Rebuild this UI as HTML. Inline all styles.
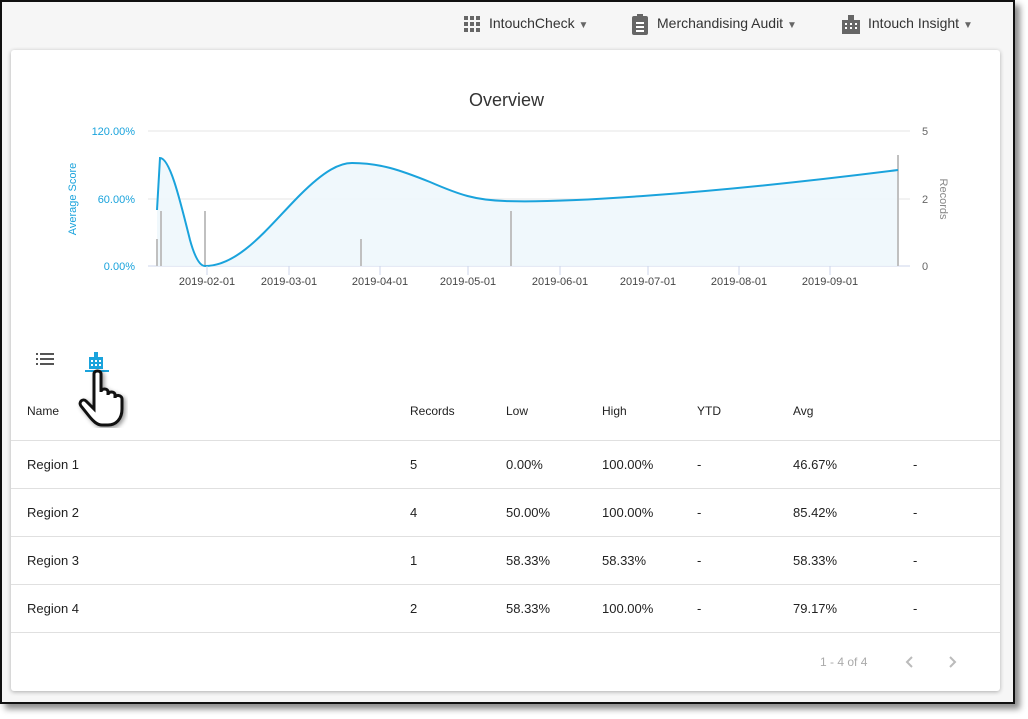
<!DOCTYPE html>
<html><head><meta charset="utf-8"><style>
*{margin:0;padding:0;box-sizing:border-box}
body{width:1028px;height:719px;background:#fff;font-family:"Liberation Sans",sans-serif;position:relative;overflow:hidden}
.frame{position:absolute;left:0;top:0;width:1015px;height:704px;border:2px solid #111;background:#f6f6f6;box-shadow:5px 5px 6px rgba(0,0,0,.45)}
.card{position:absolute;left:11px;top:50px;width:989px;height:641px;background:#fff;box-shadow:0 1px 4px rgba(0,0,0,.3);border-radius:3px}
.nav{position:absolute;top:15px;font-size:14px;color:#333}
.t{position:absolute;font-size:13px;color:#222}
.hl{position:absolute;left:11px;width:989px;height:1px;background:#e0e0e0}
</style></head><body>
<div class="frame"></div>
<div class="card"></div>
<svg style="position:absolute;left:464px;top:16px" width="17" height="17"><g fill="#666"><rect x="0" y="0" width="4" height="4"/><rect x="6" y="0" width="4" height="4"/><rect x="12" y="0" width="4" height="4"/><rect x="0" y="6" width="4" height="4"/><rect x="6" y="6" width="4" height="4"/><rect x="12" y="6" width="4" height="4"/><rect x="0" y="12" width="4" height="4"/><rect x="6" y="12" width="4" height="4"/><rect x="12" y="12" width="4" height="4"/></g></svg>
<div class="nav" style="left:489px">IntouchCheck <span style="font-size:10px;color:#666">▼</span></div>
<svg style="position:absolute;left:632px;top:14px" width="16" height="21"><rect x="0" y="2" width="16" height="19" rx="2" fill="#666"/><rect x="5" y="0" width="6" height="4" fill="#666"/><g fill="#fff"><rect x="4" y="8" width="8" height="2"/><rect x="4" y="12" width="8" height="2"/><rect x="4" y="16" width="8" height="2"/></g></svg>
<div class="nav" style="left:657px">Merchandising Audit <span style="font-size:10px;color:#666">▼</span></div>
<svg style="position:absolute;left:842px;top:15px" width="18" height="19"><path d="M6 0h6v5h6v14H0V5h6z" fill="#666"/><g fill="#fff"><rect x="3" y="8" width="2" height="2"/><rect x="8" y="8" width="2" height="2"/><rect x="13" y="8" width="2" height="2"/><rect x="3" y="12" width="2" height="2"/><rect x="8" y="12" width="2" height="2"/><rect x="13" y="12" width="2" height="2"/></g></svg>
<div class="nav" style="left:868px">Intouch Insight <span style="font-size:10px;color:#666">▼</span></div>
<div style="position:absolute;left:469px;top:90px;font-size:18px;color:#333">Overview</div>
<svg style="position:absolute;left:0;top:0" width="1028" height="300" font-family="Liberation Sans,sans-serif" font-size="11">
<line x1="148" y1="131" x2="910" y2="131" stroke="#e6e6e6"/>
<line x1="148" y1="199" x2="910" y2="199" stroke="#e6e6e6"/>
<line x1="148" y1="266" x2="910" y2="266" stroke="#ccd6eb"/>
<path d="M157 210 L160 158 C170 158,180 200,190 240 C195 258,200 266,205 266 C240 266,270 225,300 195 C325 170,340 163,352 163 C380 163,400 170,430 182 C460 195,475 200,505 201 C560 203,700 195,898 170 L898 266 L157 266Z" fill="#eef7fc" opacity=".9"/>
<g stroke="#c0c0c0" stroke-width="2"><line x1="157" y1="239" x2="157" y2="266"/><line x1="161" y1="211" x2="161" y2="266"/><line x1="205" y1="211" x2="205" y2="266"/><line x1="361" y1="239" x2="361" y2="266"/><line x1="511" y1="211" x2="511" y2="266"/><line x1="898" y1="155" x2="898" y2="266"/></g>
<path d="M157 210 L160 158 C170 158,180 200,190 240 C195 258,200 266,205 266 C240 266,270 225,300 195 C325 170,340 163,352 163 C380 163,400 170,430 182 C460 195,475 200,505 201 C560 203,700 195,898 170" fill="none" stroke="#1aa3dc" stroke-width="2"/>
<g stroke="#ccd6eb"><line x1="207" y1="266" x2="207" y2="275"/><line x1="289" y1="266" x2="289" y2="275"/><line x1="380" y1="266" x2="380" y2="275"/><line x1="468" y1="266" x2="468" y2="275"/><line x1="560" y1="266" x2="560" y2="275"/><line x1="648" y1="266" x2="648" y2="275"/><line x1="739" y1="266" x2="739" y2="275"/><line x1="830" y1="266" x2="830" y2="275"/></g>
<g fill="#1aa3dc" text-anchor="end"><text x="135" y="135">120.00%</text><text x="135" y="203">60.00%</text><text x="135" y="270">0.00%</text></g>
<text transform="translate(76,199) rotate(-90)" fill="#1aa3dc" text-anchor="middle">Average Score</text>
<g fill="#666"><text x="922" y="135">5</text><text x="922" y="203">2</text><text x="922" y="270">0</text></g>
<text transform="translate(940,199) rotate(90)" fill="#888" text-anchor="middle">Records</text>
<g fill="#444" text-anchor="middle"><text x="207" y="285">2019-02-01</text><text x="289" y="285">2019-03-01</text><text x="380" y="285">2019-04-01</text><text x="468" y="285">2019-05-01</text><text x="560" y="285">2019-06-01</text><text x="648" y="285">2019-07-01</text><text x="739" y="285">2019-08-01</text><text x="830" y="285">2019-09-01</text></g>
</svg>
<svg style="position:absolute;left:36px;top:353px" width="20" height="12"><g fill="#555"><rect x="0" y="0" width="2" height="2"/><rect x="4" y="0" width="14" height="2"/><rect x="0" y="5" width="2" height="2"/><rect x="4" y="5" width="14" height="2"/><rect x="0" y="10" width="2" height="2"/><rect x="4" y="10" width="14" height="2"/></g></svg>
<svg style="position:absolute;left:84px;top:350px" width="26" height="24"><path d="M10 2h4v5h5v12H5V7h5z" fill="#1aa3dc"/><g fill="#fff"><rect x="7" y="10" width="2" height="2"/><rect x="11" y="10" width="2" height="2"/><rect x="15" y="10" width="2" height="2"/><rect x="7" y="14" width="2" height="2"/><rect x="11" y="14" width="2" height="2"/><rect x="15" y="14" width="2" height="2"/></g><rect x="1" y="20" width="24" height="2" fill="#1aa3dc"/></svg>
<svg style="position:absolute;left:76px;top:368px" width="52" height="60"><path d="M18 6c0-4 7-4 7 0v18c0-4 7-4 7 0v3c0-4 7-4 7 0v3c0-4 7-3 7 1v10c0 10-6 16-14 16h-6c-5 0-9-4-13-9l-8-10c-3-4 2-8 5-5l8 8z" fill="#fff" stroke="#111" stroke-width="3" style="filter:drop-shadow(2px 2px 2px rgba(0,0,0,.4))"/></svg>
<div class="t" style="left:27px;top:404px;font-size:12px">Name</div>
<div class="t" style="left:410px;top:404px;font-size:12px">Records</div>
<div class="t" style="left:506px;top:404px;font-size:12px">Low</div>
<div class="t" style="left:602px;top:404px;font-size:12px">High</div>
<div class="t" style="left:697px;top:404px;font-size:12px">YTD</div>
<div class="t" style="left:793px;top:404px;font-size:12px">Avg</div>
<div class="hl" style="top:440px"></div>
<div class="t" style="left:27px;top:457px">Region 1</div><div class="t" style="left:410px;top:457px">5</div><div class="t" style="left:506px;top:457px">0.00%</div><div class="t" style="left:602px;top:457px">100.00%</div><div class="t" style="left:697px;top:457px">-</div><div class="t" style="left:793px;top:457px">46.67%</div><div class="t" style="left:913px;top:457px">-</div>
<div class="hl" style="top:488px"></div>
<div class="t" style="left:27px;top:505px">Region 2</div><div class="t" style="left:410px;top:505px">4</div><div class="t" style="left:506px;top:505px">50.00%</div><div class="t" style="left:602px;top:505px">100.00%</div><div class="t" style="left:697px;top:505px">-</div><div class="t" style="left:793px;top:505px">85.42%</div><div class="t" style="left:913px;top:505px">-</div>
<div class="hl" style="top:536px"></div>
<div class="t" style="left:27px;top:553px">Region 3</div><div class="t" style="left:410px;top:553px">1</div><div class="t" style="left:506px;top:553px">58.33%</div><div class="t" style="left:602px;top:553px">58.33%</div><div class="t" style="left:697px;top:553px">-</div><div class="t" style="left:793px;top:553px">58.33%</div><div class="t" style="left:913px;top:553px">-</div>
<div class="hl" style="top:584px"></div>
<div class="t" style="left:27px;top:601px">Region 4</div><div class="t" style="left:410px;top:601px">2</div><div class="t" style="left:506px;top:601px">58.33%</div><div class="t" style="left:602px;top:601px">100.00%</div><div class="t" style="left:697px;top:601px">-</div><div class="t" style="left:793px;top:601px">79.17%</div><div class="t" style="left:913px;top:601px">-</div>
<div class="hl" style="top:632px"></div>
<div class="t" style="left:820px;top:655px;font-size:12px;color:#aaa">1 - 4 of 4</div>
<svg style="position:absolute;left:903px;top:655px" width="60" height="14"><path d="M9 2L4 7l5 5" fill="none" stroke="#bbb" stroke-width="2"/><path d="M47 2l5 5-5 5" fill="none" stroke="#bbb" stroke-width="2"/></svg>
</body></html>
